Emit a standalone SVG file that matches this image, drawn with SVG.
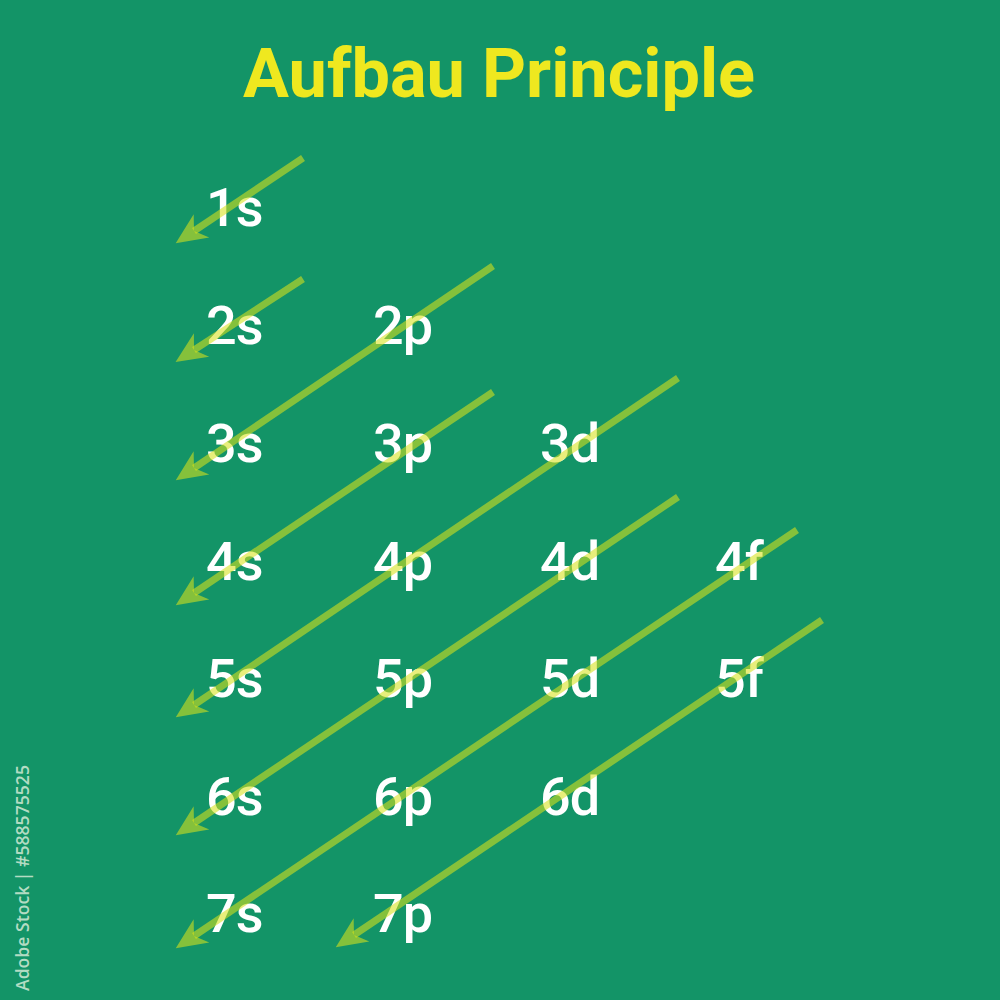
<svg xmlns="http://www.w3.org/2000/svg" width="1000" height="1000" viewBox="0 0 1000 1000">
<defs>
<style>
.lbl{font-family:Roboto,"Liberation Sans",sans-serif;font-weight:500;font-size:54px;fill:#ffffff;letter-spacing:-1px}
.title{font-family:Roboto,"Liberation Sans",sans-serif;font-weight:700;font-size:68px;fill:#efe81f}
.arr{stroke:#d8e21c;stroke-opacity:0.58;stroke-width:7;fill:none;marker-end:url(#ah)}
.wm{font-family:"Open Sans","Liberation Sans",sans-serif;font-weight:600;font-size:18.5px;fill:#b3dcc3}
</style>
<marker id="ah" markerUnits="userSpaceOnUse" markerWidth="40" markerHeight="40" refX="0" refY="0" viewBox="-10 -20 40 40" orient="auto" overflow="visible">
<path d="M22,0 L-9,-14 L0,0 L-9,14 Z" fill="#d8e21c" fill-opacity="0.58"/>
</marker>
</defs>
<rect width="1000" height="1000" fill="#139467"/>
<text class="wm" transform="translate(29,991) rotate(-90)" textLength="226" lengthAdjust="spacingAndGlyphs">Adobe Stock | #588575525</text>
<g id="title"><text class="title" x="243" y="97" textLength="512" lengthAdjust="spacingAndGlyphs">Aufbau Principle</text></g>
<g id="n1s"><text class="lbl" x="206" y="226">1s</text></g>
<g id="n2s"><text class="lbl" x="206" y="344">2s</text></g>
<g id="n2p"><text class="lbl" x="373" y="344">2p</text></g>
<g id="n3s"><text class="lbl" x="206" y="462">3s</text></g>
<g id="n3p"><text class="lbl" x="373" y="462">3p</text></g>
<g id="n3d"><text class="lbl" x="540" y="462">3d</text></g>
<g id="n4s"><text class="lbl" x="206" y="580">4s</text></g>
<g id="n4p"><text class="lbl" x="373" y="580">4p</text></g>
<g id="n4d"><text class="lbl" x="540" y="580">4d</text></g>
<g id="n4f"><text class="lbl" x="715" y="580">4f</text></g>
<g id="n5s"><text class="lbl" x="206" y="697">5s</text></g>
<g id="n5p"><text class="lbl" x="373" y="697">5p</text></g>
<g id="n5d"><text class="lbl" x="540" y="697">5d</text></g>
<g id="n5f"><text class="lbl" x="715" y="697">5f</text></g>
<g id="n6s"><text class="lbl" x="206" y="815">6s</text></g>
<g id="n6p"><text class="lbl" x="373" y="815">6p</text></g>
<g id="n6d"><text class="lbl" x="540" y="815">6d</text></g>
<g id="n7s"><text class="lbl" x="206" y="932">7s</text></g>
<g id="n7p"><text class="lbl" x="373" y="932">7p</text></g>
<g id="connectors">
<line class="arr" x1="303" y1="158" x2="194" y2="231"/>
<line class="arr" x1="303" y1="279" x2="194" y2="350"/>
<line class="arr" x1="493" y1="266" x2="194" y2="468"/>
<line class="arr" x1="493" y1="392" x2="194" y2="593"/>
<line class="arr" x1="678" y1="378" x2="194" y2="705"/>
<line class="arr" x1="678" y1="497" x2="194" y2="823"/>
<line class="arr" x1="797" y1="530" x2="194" y2="936"/>
<line class="arr" x1="822" y1="620" x2="354" y2="935"/>
</g>
</svg>
